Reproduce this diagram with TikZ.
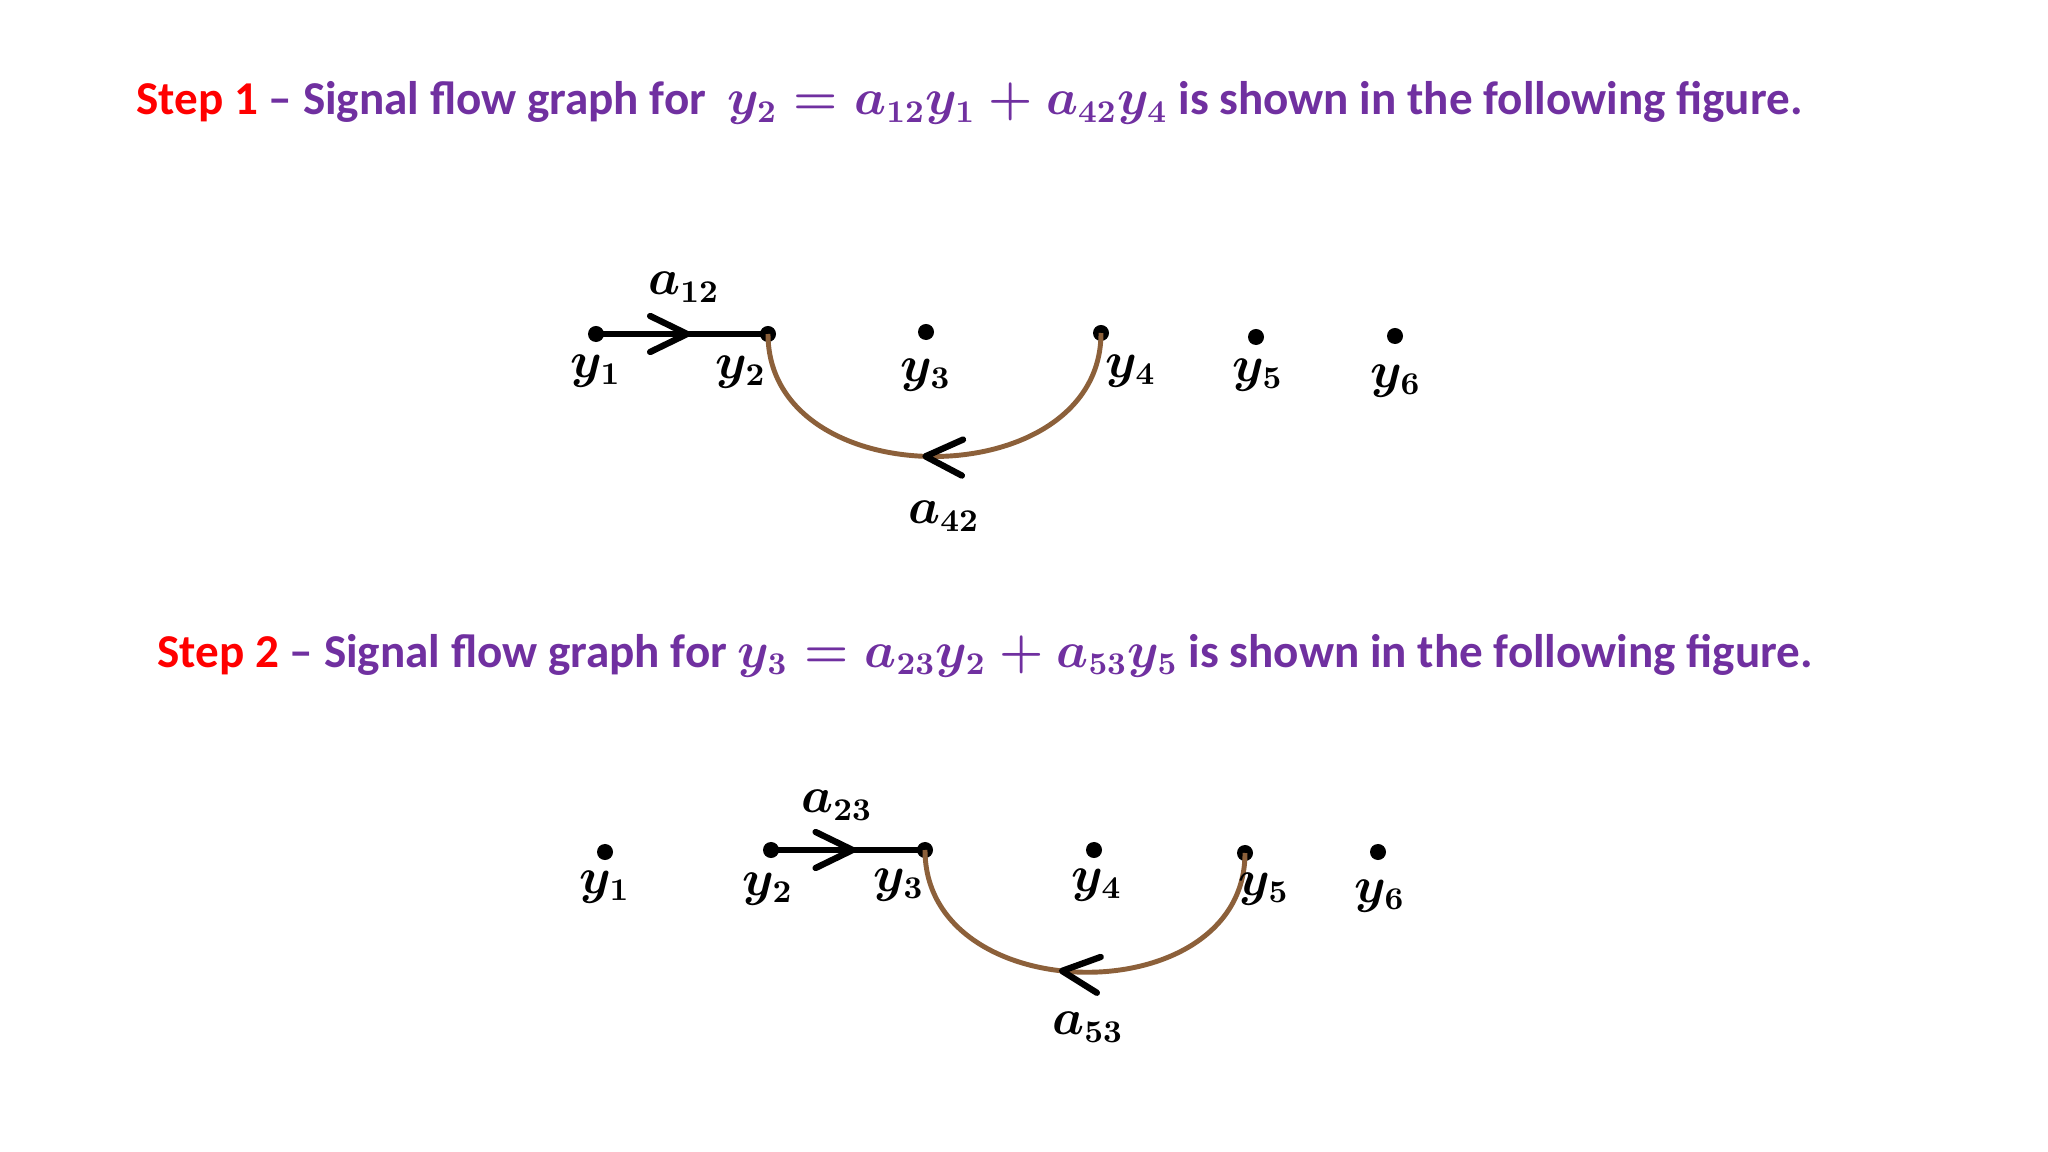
\documentclass[tikz,border=0pt]{standalone}
\usepackage{fontspec}
\setmainfont{Carlito}
\usetikzlibrary{decorations.markings}
\definecolor{stepred}{RGB}{255,0,0}
\definecolor{titlepurple}{RGB}{112,48,160}
\definecolor{arcbrown}{RGB}{140,96,58}
\begin{document}
\begin{tikzpicture}[x=0.01cm,y=-0.01cm,
  dot/.style={circle,fill=black,inner sep=0pt,minimum size=0.16cm},
  lbl/.style={inner sep=0pt,font=\fontsize{13.5}{16}\selectfont\boldmath},
  titletext/.style={anchor=base west,inner sep=0pt,font=\fontsize{13.4}{16}\selectfont\bfseries\boldmath,text=titlepurple},
  chevron/.style={decoration={markings,mark=at position #1 with {\draw[black,line width=1.8pt,line cap=round,line join=round] (-0.37cm,0.18cm) -- (0,0) -- (-0.37cm,-0.18cm);}},postaction={decorate}},
  straightedge/.style={draw=black,line width=1.7pt},
  arcedge/.style={draw=arcbrown,line width=1.4pt}
]
\useasboundingbox (0,0) rectangle (2048,1152);

% titles
\node[titletext] (t1) at (136,115) {{\color{stepred}Step 1} – Signal flow graph for\ \ $y_2 = a_{12}y_1 + a_{42}y_4$ is shown in the following figure.};
\node[titletext] (t2) at (157,667) {{\color{stepred}Step 2} – Signal flow graph for $y_3 = a_{23}y_2 + a_{53}y_5$ is shown in the following figure.};

% graph 1
\node[dot] (a1) at (596,334) {};
\node[dot] (a2) at (768,334) {};
\node[dot] (a3) at (926,332) {};
\node[dot] (a4) at (1101,333) {};
\node[dot] (a5) at (1256,337) {};
\node[dot] (a6) at (1395,336) {};
\draw[straightedge,chevron=0.53] (a1.center) -- (a2.center);
\draw[arcedge,chevron=0.52] (a4.center) .. controls +(0,164) and +(0,164) .. (a2.center);
\node[lbl] (la1) at (596,371) {$y_1$};
\node[lbl] (la2) at (741,372) {$y_2$};
\node[lbl] (la3) at (926,375) {$y_3$};
\node[lbl] (la4) at (1131,371) {$y_4$};
\node[lbl] (la5) at (1258,375) {$y_5$};
\node[lbl] (la6) at (1396,381) {$y_6$};
\node[lbl] (g12) at (684,287) {$a_{12}$};
\node[lbl] (g42) at (944,516) {$a_{42}$};

% graph 2
\node[dot] (b1) at (605,852) {};
\node[dot] (b2) at (771,850) {};
\node[dot] (b3) at (925,850) {};
\node[dot] (b4) at (1094,850) {};
\node[dot] (b5) at (1245,853) {};
\node[dot] (b6) at (1378,852) {};
\draw[straightedge,chevron=0.53] (b2.center) -- (b3.center);
\draw[arcedge,chevron=0.55] (b5.center) .. controls +(0,161) and +(0,161) .. (b3.center);
\node[lbl] (lb1) at (605,887) {$y_1$};
\node[lbl] (lb2) at (768,889) {$y_2$};
\node[lbl] (lb3) at (899,885) {$y_3$};
\node[lbl] (lb4) at (1097,885) {$y_4$};
\node[lbl] (lb5) at (1264,889) {$y_5$};
\node[lbl] (lb6) at (1380,896) {$y_6$};
\node[lbl] (g23) at (837,805) {$a_{23}$};
\node[lbl] (g53) at (1088,1027) {$a_{53}$};
\end{tikzpicture}
\end{document}
